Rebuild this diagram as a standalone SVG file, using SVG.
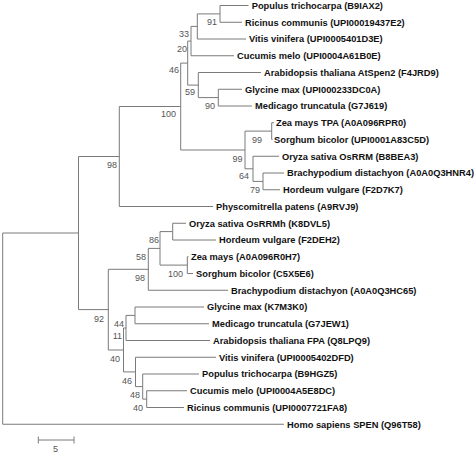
<svg xmlns="http://www.w3.org/2000/svg" width="474" height="453" viewBox="0 0 474 453">
<style>
.br{fill:none;stroke:#7a7a7a;stroke-width:1}
.leaf{font-family:"Liberation Sans",Arial,sans-serif;font-weight:bold;font-size:9.3px;fill:#111}
.bs{font-family:"Liberation Sans",Arial,sans-serif;font-size:9px;fill:#555;text-anchor:end}
.sc{font-family:"Liberation Sans",Arial,sans-serif;font-size:9px;fill:#555;text-anchor:middle}
</style>
<rect width="474" height="453" fill="#fff"/>
<g id="connectors" class="br">
<path d="M2.7,233V424.25M2.7,233H78.5M2.7,424.25H284"/>
<path d="M78.5,156.5V309.6M78.5,156.5H119.3M78.5,309.6H108.3"/>
<path d="M119.3,106.5V206.5M119.3,106.5H180.7M119.3,206.5H213"/>
<path d="M180.7,63.1V150M180.7,63.1H187.7M180.7,150H245"/>
<path d="M187.7,41.1V85.1M187.7,41.1H191M187.7,85.1H198.3"/>
<path d="M191,26.4V55.75M191,26.4H197.3M191,55.75H234"/>
<path d="M197.3,13.9V39M197.3,13.9H220M197.3,39H246"/>
<path d="M220,5.5V22.25M220,5.5H248.5M220,22.25H242"/>
<path d="M198.3,72.5V97.6M198.3,72.5H261M198.3,97.6H218.3"/>
<path d="M218.3,89.25V106M218.3,89.25H242M218.3,106H252"/>
<path d="M245,131.1V168.8M245,131.1H271.7M245,168.8H253"/>
<path d="M271.7,122.75V139.5M271.7,122.75H274M271.7,139.5H272.5"/>
<path d="M253,156.25V181.4M253,156.25H279M253,181.4H263"/>
<path d="M263,173V189.75M263,173H284M263,189.75H280"/>
<path d="M108.3,269.3V350M108.3,269.3H148.3M108.3,350H123.5"/>
<path d="M148.3,248.4V290.25M148.3,248.4H160M148.3,290.25H228"/>
<path d="M160,231.6V265.1M160,231.6H172.7M160,265.1H187.3"/>
<path d="M172.7,223.25V240M172.7,223.25H186M172.7,240H216"/>
<path d="M187.3,256.75V273.5M187.3,256.75H188.5M187.3,273.5H193"/>
<path d="M123.5,328V371.9M123.5,328H126M123.5,371.9H135.5"/>
<path d="M126,315.4V340.5M126,315.4H135M126,340.5H210"/>
<path d="M135,307V323.75M135,307H204M135,323.75H209"/>
<path d="M135.5,357.25V386.6M135.5,357.25H216M135.5,386.6H142.7"/>
<path d="M142.7,374V399.1M142.7,374H199M142.7,399.1H146.7"/>
<path d="M146.7,390.75V407.5M146.7,390.75H187M146.7,407.5H184"/>
</g>
<g id="leaves">
<g id="leaf1"><text class="leaf" x="251.7" y="8.8">Populus trichocarpa (B9IAX2)</text></g>
<g id="leaf2"><text class="leaf" x="245" y="25.6">Ricinus communis (UPI00019437E2)</text></g>
<g id="leaf3"><text class="leaf" x="249" y="42.3">Vitis vinifera (UPI0005401D3E)</text></g>
<g id="leaf4"><text class="leaf" x="237" y="59.1">Cucumis melo (UPI0004A61B0E)</text></g>
<g id="leaf5"><text class="leaf" x="264" y="75.8">Arabidopsis thaliana AtSpen2 (F4JRD9)</text></g>
<g id="leaf6"><text class="leaf" x="245" y="92.6">Glycine max (UPI000233DC0A)</text></g>
<g id="leaf7"><text class="leaf" x="255" y="109.3">Medicago truncatula (G7J619)</text></g>
<g id="leaf8"><text class="leaf" x="276" y="126.1">Zea mays TPA (A0A096RPR0)</text></g>
<g id="leaf9"><text class="leaf" x="274" y="142.8">Sorghum bicolor (UPI0001A83C5D)</text></g>
<g id="leaf10"><text class="leaf" x="282" y="159.6">Oryza sativa OsRRM (B8BEA3)</text></g>
<g id="leaf11"><text class="leaf" x="287" y="176.3">Brachypodium distachyon (A0A0Q3HNR4)</text></g>
<g id="leaf12"><text class="leaf" x="283" y="193.1">Hordeum vulgare (F2D7K7)</text></g>
<g id="leaf13"><text class="leaf" x="216" y="209.8">Physcomitrella patens (A9RVJ9)</text></g>
<g id="leaf14"><text class="leaf" x="189" y="226.6">Oryza sativa OsRRMh (K8DVL5)</text></g>
<g id="leaf15"><text class="leaf" x="219" y="243.3">Hordeum vulgare (F2DEH2)</text></g>
<g id="leaf16"><text class="leaf" x="191" y="260.1">Zea mays (A0A096R0H7)</text></g>
<g id="leaf17"><text class="leaf" x="196" y="276.8">Sorghum bicolor (C5X5E6)</text></g>
<g id="leaf18"><text class="leaf" x="231" y="293.6">Brachypodium distachyon (A0A0Q3HC65)</text></g>
<g id="leaf19"><text class="leaf" x="207" y="310.3">Glycine max (K7M3K0)</text></g>
<g id="leaf20"><text class="leaf" x="212" y="327.1">Medicago truncatula (G7JEW1)</text></g>
<g id="leaf21"><text class="leaf" x="213" y="343.8">Arabidopsis thaliana FPA (Q8LPQ9)</text></g>
<g id="leaf22"><text class="leaf" x="219" y="360.6">Vitis vinifera (UPI0005402DFD)</text></g>
<g id="leaf23"><text class="leaf" x="202" y="377.3">Populus trichocarpa (B9HGZ5)</text></g>
<g id="leaf24"><text class="leaf" x="190" y="394.1">Cucumis melo (UPI0004A5E8DC)</text></g>
<g id="leaf25"><text class="leaf" x="187" y="410.8">Ricinus communis (UPI0007721FA8)</text></g>
<g id="leaf26"><text class="leaf" x="287" y="427.6">Homo sapiens SPEN (Q96T58)</text></g>
</g>
<g id="bootstrap">
<g id="nA"><text class="bs" x="217" y="24.7">91</text></g>
<g id="nB"><text class="bs" x="189" y="36.5">33</text></g>
<g id="nC"><text class="bs" x="187" y="51.5">20</text></g>
<g id="nF"><text class="bs" x="179" y="73.2">46</text></g>
<g id="nE"><text class="bs" x="195" y="95.2">59</text></g>
<g id="nD"><text class="bs" x="215" y="108.9">90</text></g>
<g id="nK"><text class="bs" x="176" y="116.9">100</text></g>
<g id="nG"><text class="bs" x="262" y="142.5">99</text></g>
<g id="nJ"><text class="bs" x="242.5" y="161.7">99</text></g>
<g id="nI"><text class="bs" x="249" y="179.2">64</text></g>
<g id="nH"><text class="bs" x="260" y="193.2">79</text></g>
<g id="nL"><text class="bs" x="117" y="168.2">98</text></g>
<g id="nM"><text class="bs" x="159" y="243.2">86</text></g>
<g id="nO"><text class="bs" x="146" y="259.9">58</text></g>
<g id="nP"><text class="bs" x="145" y="280.5">98</text></g>
<g id="nN"><text class="bs" x="183" y="276.5">100</text></g>
<g id="nW"><text class="bs" x="104" y="321.5">92</text></g>
<g id="nQ"><text class="bs" x="124" y="326.5">44</text></g>
<g id="nR"><text class="bs" x="122" y="339.2">11</text></g>
<g id="nV"><text class="bs" x="120" y="361.5">40</text></g>
<g id="nU"><text class="bs" x="132" y="383.9">46</text></g>
<g id="nT"><text class="bs" x="140" y="397.5">48</text></g>
<g id="nS"><text class="bs" x="143" y="410.5">40</text></g>
</g>
<g id="scale">
<path class="br" d="M38.3,440H74M38.3,436.5V443.5M74,436.5V443.5"/>
<text class="sc" x="55.5" y="451.5">5</text>
</g>
</svg>
